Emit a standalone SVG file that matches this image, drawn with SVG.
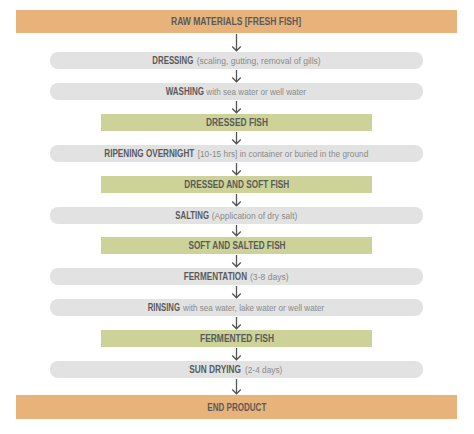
<svg xmlns="http://www.w3.org/2000/svg" width="474" height="434" viewBox="0 0 474 434">
<defs>
<style>
.orange{fill:#e8b27b}
.green{fill:#cdd398}
.gray{fill:#e2e2e2}
text{font-family:"Liberation Sans",Arial,sans-serif;font-size:10.5px;font-weight:bold;fill:#5a5a5a;text-anchor:middle}
text.b{text-anchor:start}
text.n{font-weight:normal;fill:#8a8a8a;font-size:9.5px;text-anchor:start}
.c path{fill:none;stroke:#555;stroke-width:1.3}
</style>
</defs>
<rect width="474" height="434" fill="#fff"/>
<g id="connectors" class="c">
<path d="M236.5,34 V50.5 M232.2,46.5 L236.5,50.8 L240.8,46.5"/>
<path d="M236.5,70 V81.5 M232.2,77.5 L236.5,81.8 L240.8,77.5"/>
<path d="M236.5,101 V112.5 M232.2,108.5 L236.5,112.8 L240.8,108.5"/>
<path d="M236.5,132 V143.5 M232.2,139.5 L236.5,143.8 L240.8,139.5"/>
<path d="M236.5,163 V174.5 M232.2,170.5 L236.5,174.8 L240.8,170.5"/>
<path d="M236.5,194 V205.5 M232.2,201.5 L236.5,205.8 L240.8,201.5"/>
<path d="M236.5,225 V235.5 M232.2,231.5 L236.5,235.8 L240.8,231.5"/>
<path d="M236.5,255 V266.5 M232.2,262.5 L236.5,266.8 L240.8,262.5"/>
<path d="M236.5,286 V297.5 M232.2,293.5 L236.5,297.8 L240.8,293.5"/>
<path d="M236.5,317 V328.5 M232.2,324.5 L236.5,328.8 L240.8,324.5"/>
<path d="M236.5,348 V359.5 M232.2,355.5 L236.5,359.8 L240.8,355.5"/>
<path d="M236.5,379 V393.5 M232.2,389.5 L236.5,393.8 L240.8,389.5"/>
</g>
<g id="raw"><rect class="orange" x="16" y="10" width="441" height="23"/><g transform="translate(236,0) scale(0.78,1)"><text x="0" y="25.5" textLength="166.7" lengthAdjust="spacingAndGlyphs">RAW MATERIALS [FRESH FISH]</text></g></g>
<g id="dressing"><rect class="gray" x="50" y="52" width="373" height="17" rx="8"/><g transform="translate(152.3,0) scale(0.78,1)"><text class="b" x="0" y="64.3" textLength="52.6" lengthAdjust="spacingAndGlyphs">DRESSING</text></g><g transform="translate(196.7,0) scale(0.85,1)"><text class="n" x="0" y="64.3" textLength="145.9" lengthAdjust="spacingAndGlyphs">(scaling, gutting, removal of gills)</text></g></g>
<g id="washing"><rect class="gray" x="50" y="83" width="373" height="17" rx="8"/><g transform="translate(165.7,0) scale(0.78,1)"><text class="b" x="0" y="95.3" textLength="49.1" lengthAdjust="spacingAndGlyphs">WASHING</text></g><g transform="translate(206.3,0) scale(0.85,1)"><text class="n" x="0" y="95.3" textLength="117.3" lengthAdjust="spacingAndGlyphs">with sea water or well water</text></g></g>
<g id="dressedfish"><rect class="green" x="101" y="114" width="271" height="17"/><g transform="translate(237,0) scale(0.78,1)"><text x="0" y="126.3" textLength="79.5" lengthAdjust="spacingAndGlyphs">DRESSED FISH</text></g></g>
<g id="ripening"><rect class="gray" x="50" y="145" width="373" height="17" rx="8"/><g transform="translate(104.3,0) scale(0.78,1)"><text class="b" x="0" y="157.3" textLength="115.4" lengthAdjust="spacingAndGlyphs">RIPENING OVERNIGHT</text></g><g transform="translate(197.7,0) scale(0.85,1)"><text class="n" x="0" y="157.3" textLength="200.7" lengthAdjust="spacingAndGlyphs">[10-15 hrs] in container or buried in the ground</text></g></g>
<g id="dressedsoft"><rect class="green" x="101" y="176" width="271" height="17"/><g transform="translate(236.8,0) scale(0.78,1)"><text x="0" y="188.3" textLength="134.6" lengthAdjust="spacingAndGlyphs">DRESSED AND SOFT FISH</text></g></g>
<g id="salting"><rect class="gray" x="50" y="207" width="373" height="17" rx="8"/><g transform="translate(175.3,0) scale(0.78,1)"><text class="b" x="0" y="219.3" textLength="43.2" lengthAdjust="spacingAndGlyphs">SALTING</text></g><g transform="translate(211.7,0) scale(0.85,1)"><text class="n" x="0" y="219.3" textLength="100.7" lengthAdjust="spacingAndGlyphs">(Application of dry salt)</text></g></g>
<g id="softsalted"><rect class="green" x="101" y="237" width="271" height="17"/><g transform="translate(237,0) scale(0.78,1)"><text x="0" y="249.3" textLength="124.4" lengthAdjust="spacingAndGlyphs">SOFT AND SALTED FISH</text></g></g>
<g id="fermentation"><rect class="gray" x="50" y="268" width="373" height="17" rx="8"/><g transform="translate(183.7,0) scale(0.78,1)"><text class="b" x="0" y="280.3" textLength="81.2" lengthAdjust="spacingAndGlyphs">FERMENTATION</text></g><g transform="translate(250,0) scale(0.85,1)"><text class="n" x="0" y="280.3" textLength="45.5" lengthAdjust="spacingAndGlyphs">(3-8 days)</text></g></g>
<g id="rinsing"><rect class="gray" x="50" y="299" width="373" height="17" rx="8"/><g transform="translate(147.7,0) scale(0.78,1)"><text class="b" x="0" y="311.3" textLength="41.4" lengthAdjust="spacingAndGlyphs">RINSING</text></g><g transform="translate(183,0) scale(0.85,1)"><text class="n" x="0" y="311.3" textLength="166.2" lengthAdjust="spacingAndGlyphs">with sea water, lake water or well water</text></g></g>
<g id="fermentedfish"><rect class="green" x="101" y="330" width="271" height="17"/><g transform="translate(237,0) scale(0.78,1)"><text x="0" y="342.3" textLength="94.9" lengthAdjust="spacingAndGlyphs">FERMENTED FISH</text></g></g>
<g id="sundrying"><rect class="gray" x="50" y="361" width="373" height="17" rx="8"/><g transform="translate(189.3,0) scale(0.78,1)"><text class="b" x="0" y="373.3" textLength="66.3" lengthAdjust="spacingAndGlyphs">SUN DRYING</text></g><g transform="translate(245,0) scale(0.85,1)"><text class="n" x="0" y="373.3" textLength="43.9" lengthAdjust="spacingAndGlyphs">(2-4 days)</text></g></g>
<g id="end"><rect class="orange" x="16" y="395" width="441" height="24"/><g transform="translate(236.8,0) scale(0.78,1)"><text x="0" y="411" textLength="75.6" lengthAdjust="spacingAndGlyphs">END PRODUCT</text></g></g>
</svg>
